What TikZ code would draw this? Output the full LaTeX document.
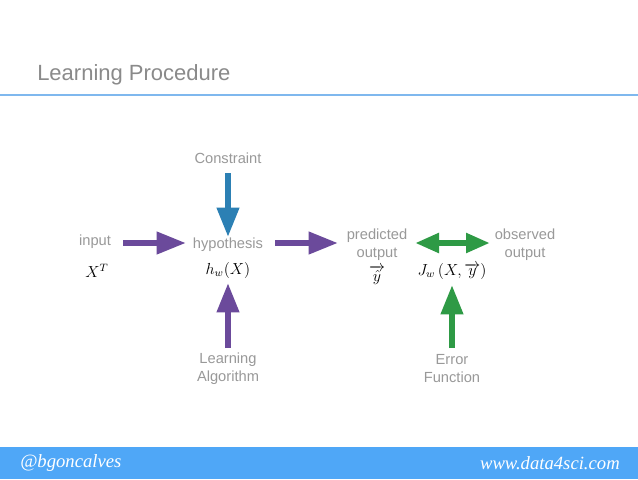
\documentclass[tikz,border=0pt]{standalone}
\usepackage{fontspec}
\setmainfont{Liberation Sans}
\newfontfamily\serifit{Liberation Serif}
\usetikzlibrary{arrows.meta}
\definecolor{txtgray}{HTML}{999999}
\definecolor{arrpurple}{HTML}{6B4A9B}
\definecolor{arrblue}{HTML}{2C80B4}
\definecolor{arrgreen}{HTML}{2E9A45}
\definecolor{barblue}{HTML}{4FA7F7}
\definecolor{rulecol}{HTML}{7FB8EE}
\tikzset{
  lbl/.style={text=txtgray,font=\fontsize{11}{13.5}\selectfont,align=center,inner sep=0pt},
  mth/.style={font=\fontsize{12}{13}\selectfont,inner sep=0pt},
  fat/.style={line width=4.5pt,-{Triangle[length=22pt,width=16pt]}},
  fatboth/.style={line width=4.5pt,{Triangle[length=18pt,width=14pt]}-{Triangle[length=18pt,width=14pt]}}
}
\begin{document}
\begin{tikzpicture}[x=0.75pt,y=-0.75pt]
\useasboundingbox (0,0) rectangle (638,479);
\fill[white] (0,0) rectangle (638,479);
\node[anchor=base west,text=txtgray!90!black,font=\fontsize{16.5}{18}\selectfont,inner sep=0pt] (title) at (37,80) {Learning Procedure};
\draw[rulecol,line width=0.8pt] (0,95) -- (638,95);
\fill[barblue] (0,447) rectangle (638,479);
\node[anchor=west,text=white,font=\serifit\itshape\fontsize{14}{15}\selectfont,inner sep=0pt] (tw) at (20,463) {@bgoncalves};
\node[anchor=east,text=white,font=\serifit\itshape\fontsize{14}{15}\selectfont,inner sep=0pt] (web) at (620,463) {www.data4sci.com};

\node[lbl] (con) at (228,158) {Constraint};
\node[lbl] (inp) at (95,242) {input};
\node[mth] (xt) at (97,271) {$X^T$};
\node[lbl] (hyp) at (228,245) {hypothesis};
\node[mth] (hw) at (228,270) {$h_w(X)$};
\node[lbl] (pred) at (377,245) {predicted\\output};
\node[mth] (yh) at (377,275) {$\overrightarrow{\hat y}$};
\node[mth] (jw) at (452,271) {$J_w\left(X,\overrightarrow{y}\right)$};
\node[lbl] (obs) at (525,245) {observed\\output};
\node[lbl] (la) at (228,369) {Learning\\Algorithm};
\node[lbl] (ef) at (452,369) {Error\\Function};

\coordinate (a1s) at (123,243); \coordinate (a1e) at (186,243);
\coordinate (a2s) at (275,243); \coordinate (a2e) at (338,243);
\coordinate (a3s) at (415,243); \coordinate (a3e) at (490,243);
\coordinate (bs) at (228,173); \coordinate (be) at (228,237);
\coordinate (ps) at (228,348); \coordinate (pe) at (228,283);
\coordinate (gs) at (452,348); \coordinate (ge) at (452,285);
\draw[fat,arrpurple] (a1s) -- (a1e);
\draw[fat,arrpurple] (a2s) -- (a2e);
\draw[fatboth,arrgreen] (a3s) -- (a3e);
\draw[fat,arrblue] (bs) -- (be);
\draw[fat,arrpurple] (ps) -- (pe);
\draw[fat,arrgreen] (gs) -- (ge);
\end{tikzpicture}
\end{document}
